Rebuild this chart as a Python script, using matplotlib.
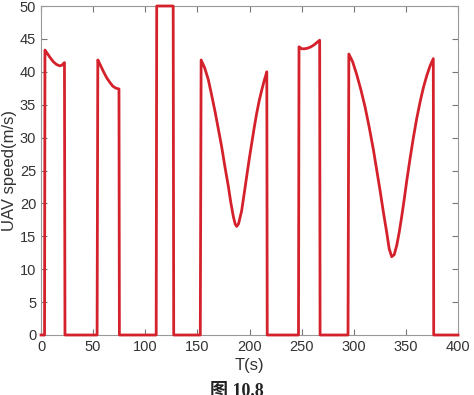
import matplotlib.pyplot as plt

# flight segments: time (s) and UAV speed (m/s)
t_seg1 = [0, 3.4, 3.8, 6, 9, 12, 15, 18, 20, 22.5, 23]
v_seg1 = [0, 0, 43.3, 42.8, 42.1, 41.5, 41.1, 40.9, 41.0, 41.4, 0]

t_seg2 = [53.8, 54.5, 57, 60, 63, 66, 69, 72, 74.8, 75.2]
v_seg2 = [0, 41.8, 41.0, 40.0, 39.1, 38.4, 37.8, 37.5, 37.4, 0]

t_seg3 = [110.5, 111, 126.8, 127.3]
v_seg3 = [0, 50, 50, 0]

t_seg4 = [152.8, 153.6, 157, 160.5, 163.5, 166.9, 170, 173.3, 176.5,
          179.7, 182, 184.5, 186.2, 187.7, 189.5, 192.5, 195, 197.3,
          199.7, 202.1, 204.5, 206.9, 209.3, 211.7, 214, 216.6, 217]
v_seg4 = [0, 41.8, 40.6, 38.8, 36.6, 34.0, 31.4, 28.6, 25.5,
          22.6, 20.2, 18.0, 16.9, 16.5, 16.9, 18.9, 21.6, 24.1,
          26.7, 29.1, 31.5, 33.7, 35.6, 37.2, 38.6, 40.0, 0]

t_seg5 = [247, 247.5, 250, 253, 256, 259, 262, 265, 267.3, 267.7]
v_seg5 = [0, 43.8, 43.5, 43.5, 43.6, 43.8, 44.1, 44.5, 44.8, 0]

t_seg6 = [294.5, 295.3, 299, 302.8, 306.8, 310.8, 314.8, 318.8, 322,
          325.2, 328.4, 331.6, 334, 336.4, 338.8, 341.2, 343.6, 346.0,
          348.4, 350.8, 354, 357.2, 360.4, 363.6, 366.8, 370.0, 373.2,
          376.3, 376.7]
v_seg6 = [0, 42.7, 41.5, 39.6, 37.3, 34.7, 31.6, 28.2, 25.1,
          22.0, 18.7, 15.6, 13.1, 11.9, 12.2, 13.6, 15.6, 18.0,
          20.6, 23.4, 26.8, 30.0, 32.9, 35.4, 37.6, 39.4, 40.9,
          42.0, 0]

segments = [(t_seg1, v_seg1), (t_seg2, v_seg2), (t_seg3, v_seg3),
            (t_seg4, v_seg4), (t_seg5, v_seg5), (t_seg6, v_seg6)]

t = []
v = []
for ts, vs in segments:
    t += ts
    v += vs
t.append(400)
v.append(0)

plt.rcParams['font.family'] = ['Liberation Sans', 'DejaVu Sans']

fig = plt.figure(figsize=(4.74, 3.95), dpi=100)
ax = fig.add_axes([41 / 474, 60 / 395, 417 / 474, 329 / 395])

ax.plot(t, v, color='#d4212b', linewidth=2.0, clip_on=False, zorder=5)

ax.set_xlim(0, 400)
ax.set_ylim(0, 50)
ax.xaxis.set_major_locator(plt.MultipleLocator(50))
ax.yaxis.set_major_locator(plt.MultipleLocator(5))

ax.tick_params(direction='in', top=True, right=True, labelsize=10.5,
               colors='#777777', labelcolor='#333333', length=4)
for s in ax.spines.values():
    s.set_color('#999999')

ax.set_xlabel('T(s)', fontsize=12, color='#333333', labelpad=3)
ax.set_ylabel('UAV speed(m/s)', fontsize=12, color='#333333', labelpad=2)

# caption, cut off by the lower edge as in the scanned page
fig.text(237 / 474, 12 / 395, '图 10.8', fontsize=13, fontweight='bold',
         family=['Liberation Serif', 'Noto Sans CJK SC'],
         ha='center', va='top', color='#222222')

fig.savefig('out.png', dpi=100)
